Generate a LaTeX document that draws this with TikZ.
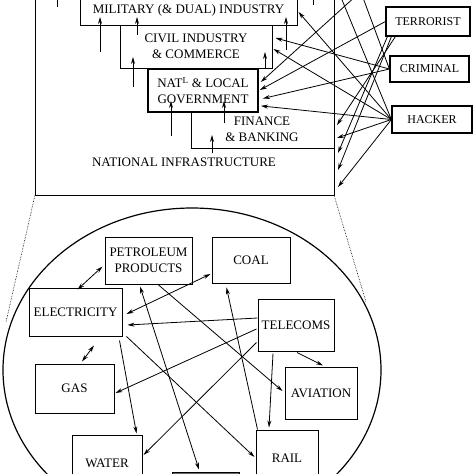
\documentclass[tikz,border=0pt]{standalone}
\usepackage{fontspec}
\setmainfont{Liberation Serif}
\usetikzlibrary{arrows.meta,calc}
\tikzset{
  box/.style={draw, line width=1pt, inner sep=0pt, align=center, font=\fontsize{13}{16}\selectfont},
  threat/.style={box, line width=1.2pt, font=\fontsize{12}{14}\selectfont},
  link/.style={->, line width=0.8pt},
  twoway/.style={<->, line width=0.8pt},
}
\begin{document}
\begin{tikzpicture}[x=1pt, y=-1pt, >={Stealth[length=7pt,width=4pt]}]
\clip (0,0) rectangle (474,474);
\fill[white] (0,0) rectangle (474,474);

% national infrastructure
\draw[line width=1pt] (35,-10) -- (35,195) -- (334,195) -- (334,-10);
\draw[line width=1pt] (191,112) -- (191,148) -- (334,148);
\node[box, minimum width=217pt, minimum height=30pt] (mil) at (188.5,10) {MILITARY (\& DUAL) INDUSTRY};
\node[box, minimum width=152pt, minimum height=43pt] (civ) at (196,46.5) {CIVIL INDUSTRY\\\& COMMERCE};
\node[box, line width=1.8pt, minimum width=110pt, minimum height=43pt] (gov) at (203,90.5) {NAT\textsuperscript{L} \& LOCAL\\GOVERNMENT};
\node[box, draw=none] (fin) at (262,129) {FINANCE\\\& BANKING};
\node[box, draw=none] (natinf) at (184,162) {NATIONAL INFRASTRUCTURE};
\draw[line width=0.8pt] (57,-5) -- (57,7) (313,-5) -- (313,5);
\foreach \x/\ya/\yb in {100/52/17, 137/35/17, 286/50/17, 133/87/57, 265/68/52, 171/136/101, 224/123/101, 212/153/135}
  \draw[link] (\x,\ya) -- (\x,\yb);

% threats
\node[threat, minimum width=84pt, minimum height=29pt] (terr) at (428,21.5) {TERRORIST};
\node[threat, minimum width=79pt, minimum height=26pt] (crim) at (429.5,69) {CRIMINAL};
\node[threat, minimum width=80pt, minimum height=27pt] (hack) at (432,119.5) {HACKER};
\coordinate (e1) at (337,125);
\coordinate (e2) at (337,138);
\coordinate (e3) at (338,153);
\coordinate (e4) at (338,170);
\coordinate (e5) at (338,187);
\coordinate (up1) at (340,-5);
\coordinate (up2) at (362,-5);
\coordinate (up3) at (357,-5);
\draw[link] (hack.west) -- ($(mil.east)+(1,2)$);
\draw[link] (hack.west) -- ($(civ.east)+(1,2.5)$);
\draw[link] (hack.west) -- ($(gov.south east)+(2,-7)$);
\draw[link] (hack.west) -- (e2);
\draw[link] (hack.west) -- (e5);
\draw[line width=0.8pt] (hack.west) -- (up1);
\draw[link] (crim.west) -- ($(civ.east)+(3,-8.5)$);
\draw[link] (crim.west) -- ($(gov.east)+(4,8)$);
\draw[line width=0.8pt] (crim.west) -- (up2);
\draw[link] (terr.west) -- ($(gov.east)+(1,-0.5)$);
\draw[link] ($(terr.south west)+(10,0)$) -- (e1);
\draw[link] ($(terr.south west)+(2,0)$) -- (e3);
\draw[link] ($(terr.south west)+(6,0)$) -- (e4);
\draw[link] (up3) -- ($(gov.east)+(2,-8.5)$);

% zoom onto the infrastructure
\draw[densely dotted, line width=0.6pt] (35,195) -- (6,322) (334,195) -- (366,302);
\draw[line width=1.2pt] (192,370) ellipse [x radius=189pt, y radius=162pt];

% sectors
\node[box, minimum width=87pt, minimum height=47pt] (petro) at (148.5,260.5) {PETROLEUM\\PRODUCTS};
\node[box, minimum width=78pt, minimum height=46pt] (coal) at (251,260) {COAL};
\node[box, minimum width=93pt, minimum height=48pt] (elec) at (75.5,312) {ELECTRICITY};
\node[box, minimum width=76pt, minimum height=52pt] (tel) at (296,325) {TELECOMS};
\node[box, minimum width=79pt, minimum height=49pt] (gas) at (74.5,388.5) {GAS};
\node[box, minimum width=72pt, minimum height=52pt] (avia) at (321,393) {AVIATION};
\node[box, minimum width=70pt, minimum height=56pt] (water) at (107,463) {WATER};
\node[box, minimum width=62pt, minimum height=56pt] (rail) at (287,458) {RAIL};
\node[box, fill=black!60, minimum width=67pt, minimum height=38pt] (grey) at (205.5,491) {};

\draw[twoway] ($(elec.north)+(2,2)$) -- ($(petro.west)+(-2,6)$);
\draw[twoway] ($(coal.west)+(-1,14)$) -- ($(elec.east)+(4,2)$);
\draw[link] ($(tel.west)+(0,-7)$) -- ($(elec.east)+(5,13)$);
\draw[link] ($(petro.south)+(9.5,0)$) -- ($(avia.west)+(-2,-2)$);
\draw[twoway] ($(petro.south)+(-8.5,2)$) -- ($(grey.north)+(-6.5,-2)$);
\draw[link] ($(elec.south east)+(-3,4)$) -- ($(water.north east)+(-6,-1)$);
\draw[link] ($(elec.south east)+(4,0)$) -- ($(rail.west)+(-1,-1)$);
\draw[link] ($(rail.north west)+(2,0)$) -- ($(coal.south west)+(15,4)$);
\draw[link] ($(tel.west)+(-1,4)$) -- ($(gas.east)+(1,4.5)$);
\draw[link] ($(tel.south west)+(-1,-9)$) -- ($(water.east)+(1,-8)$);
\draw[link] ($(tel.south)+(1,1)$) -- ($(avia.north)+(2,-1)$);
\draw[link] ($(tel.south)+(-23,2)$) -- ($(rail.north)+(-18,-2)$);
\draw[twoway] ($(gas.north)+(7.5,-2)$) -- ($(elec.south)+(18.5,9)$);
\end{tikzpicture}
\end{document}
